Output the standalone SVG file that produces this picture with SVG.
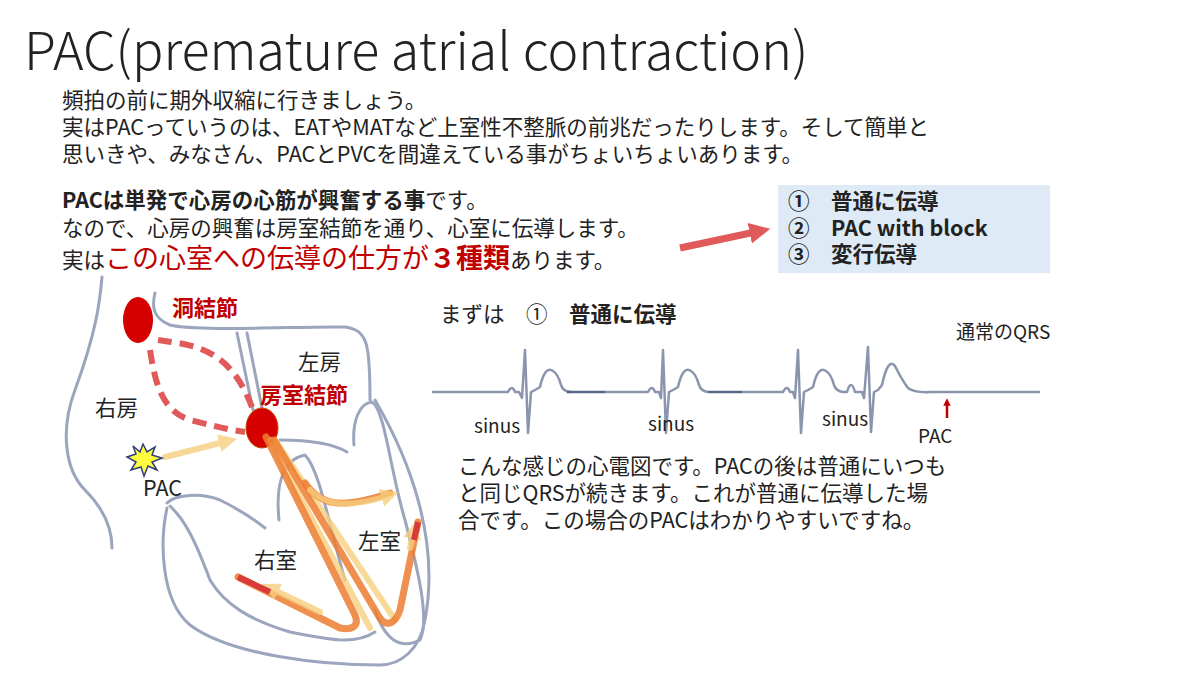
<svg xmlns="http://www.w3.org/2000/svg" width="1200" height="675" viewBox="0 0 1200 675">
<style>
text{font-family:"Noto Sans CJK JP","Noto Sans",sans-serif;fill:#222}
.t{font-size:21.5px}
.b{font-weight:bold}
.r{fill:#c00000}
.h{fill:none;stroke:#9ba5bd;stroke-width:3;stroke-linecap:round;stroke-linejoin:round}
.d{fill:none;stroke:#e05a5a;stroke-width:6;stroke-dasharray:14,8}
.ecg{fill:none;stroke:#8a94ad;stroke-width:2.5;stroke-linejoin:round}
.o{fill:none;stroke:#ed7d31;stroke-width:7;stroke-linecap:round;stroke-linejoin:round;opacity:.85}
.y{fill:none;stroke:#f7cf7e;stroke-width:6;opacity:.8;stroke-linecap:round}
</style>
<defs>
<marker id="ya" viewBox="0 0 10 10" refX="5" refY="5" markerWidth="3" markerHeight="3" orient="auto"><path d="M0,0L10,5L0,10z" fill="#f7cf7e"/></marker>
<marker id="ra" viewBox="0 0 10 10" refX="5" refY="5" markerWidth="3" markerHeight="3" orient="auto"><path d="M0,0L10,5L0,10z" fill="#e05a5a"/></marker>
<marker id="da" viewBox="0 0 10 10" refX="5" refY="5" markerWidth="3" markerHeight="3" orient="auto"><path d="M0,0L10,5L0,10z" fill="#c00000"/></marker>
</defs>
<rect width="1200" height="675" fill="#fff"/>
<text x="24" y="70" style="font-size:52px;font-weight:300">PAC(premature atrial contraction)</text>
<text class="t" x="62" y="108">頻拍の前に期外収縮に行きましょう。</text>
<text class="t" x="62" y="135">実はPACっていうのは、EATやMATなど上室性不整脈の前兆だったりします。そして簡単と</text>
<text class="t" x="62" y="162">思いきや、みなさん、PACとPVCを間違えている事がちょいちょいあります。</text>
<text class="t" x="62" y="208"><tspan class="b">PACは単発で心房の心筋が興奮する事</tspan>です。</text>
<text class="t" x="62" y="236">なので、心房の興奮は房室結節を通り、心室に伝導します。</text>
<text class="t" x="62" y="268">実は<tspan class="r" style="font-size:27px">この心室への伝導の仕方が</tspan><tspan class="r b" style="font-size:27px">３種類</tspan>あります。</text>
<g id="list">
<rect x="778" y="185" width="272" height="88" fill="#deebf7"/>
<text class="t b" x="788" y="209">①　普通に伝導</text>
<text class="t b" x="788" y="236">②　PAC with block</text>
<text class="t b" x="788" y="262">③　変行伝導</text>
</g>
<g id="connectors">
<path d="M680,248L760,231" stroke="#e05a5a" stroke-width="7" marker-end="url(#ra)"/>
</g>
<g id="heart">
<path class="h" d="M102,277C100,300 97,330 75,390C60,430 65,470 85,490C105,510 112,530 112,548"/>
<path class="h" d="M155,293C152,305 152,318 170,325C200,332 300,326 345,327C368,330 370,345 370,400"/>
<path class="h" d="M237,333L253,410M247,333L262,408"/>
<path class="h" d="M280,440C300,440 330,442 347,452"/>
<path class="h" d="M354,445C352,420 360,403 372,402C385,410 390,470 405,520C418,570 430,620 420,640C400,650 385,640 375,610"/>
<path class="h" d="M167,503C175,495 200,492 220,500C240,510 255,520 265,528"/>
<path class="h" d="M167,508C160,540 160,600 190,625C230,655 320,665 380,665C400,665 420,650 425,620C440,540 410,460 375,400"/>
<path class="h" d="M170,506C185,520 195,540 210,580C225,605 250,620 290,632C330,640 355,645 375,632"/>
<path class="h" d="M279,520C276,490 280,460 305,455C320,470 330,530 345,580"/>
</g>
<g id="conduction">
<path class="d" d="M158,340C190,345 230,345 253,410"/>
<path class="d" d="M150,350C155,380 160,410 190,420C210,425 230,430 245,432"/>
<ellipse id="sa" cx="138" cy="320" rx="15" ry="23" fill="#d60000"/>
<ellipse id="av" cx="262" cy="428" rx="16" ry="20" fill="#d60000" stroke="#c05000" stroke-width="1"/>
<path class="y" d="M270,440L370,628M275,440L395,620" stroke-width="12"/>
<path class="o" d="M266,437L355,615C360,628 350,630 340,628L238,577"/>
<path class="o" d="M274,440L378,615C385,628 395,625 400,610L418,522"/>
<path class="o" d="M305,483C320,505 340,510 390,493"/>
<path class="y" d="M310,490C330,510 360,505 390,495" marker-end="url(#ya)"/>
<path class="y" d="M320,612L270,588" marker-end="url(#ya)"/>
<path class="y" d="M410,548L414,530" marker-end="url(#ya)"/>
<path d="M238,577L270,592" stroke="#d93a3a" stroke-width="6" fill="none"/>
<path d="M418,522L414,540" stroke="#d93a3a" stroke-width="6" fill="none"/>
<path class="y" d="M165,457L228,441" stroke-width="7" marker-end="url(#ya)"/>
<polygon points="143,444 147,452 155,447 152,455 162,458 152,462 157,470 148,466 144,476 141,467 131,470 136,462 127,457 136,454 133,446 140,452" fill="#ffff40" stroke="#2f3e7a" stroke-width="1.5"/>
</g>
<text class="b r" x="172" y="316" style="font-size:22px">洞結節</text>
<text class="b r" x="260" y="403" style="font-size:22px">房室結節</text>
<text class="t" x="298" y="370">左房</text>
<text class="t" x="95" y="416">右房</text>
<text class="t" x="143" y="496">PAC</text>
<text class="t" x="358" y="549">左室</text>
<text class="t" x="254" y="568">右室</text>
<g id="ecg">
<text class="t" x="440" y="322">まずは　①　<tspan class="b">普通に伝導</tspan></text>
<path class="ecg" d="M432,392L508,392Q512,384 515,392L519,392L522,398L525,350L528,433L531,392L535,390L540,387Q545,365 553,371Q558,374 561,385Q563,391 570,392L567,392"/>
<path d="M567,392L605,392" stroke="#5a6688" stroke-width="2.5"/>
<path class="ecg" d="M605,392L648,392Q652,384 655,392L659,392L661,398L663,350L666,433L669,392L673,390L678,387Q683,365 691,371Q696,374 699,385Q701,391 708,392L708,392"/>
<path d="M708,392L742,392" stroke="#5a6688" stroke-width="2.5"/>
<path class="ecg" d="M742,392L783,392Q787,384 790,392L793,392L795,398L798,350L801,433L804,392L808,390L813,387Q818,365 826,371Q831,374 834,385Q836,391 843,392L847,392Q851,378 855,392L862,392L864,398L868,347L871,432L874,392L878,390L882,385Q888,357 895,366Q902,380 908,388Q915,393 930,392L1040,392"/>
<text class="t" x="474" y="433" style="font-size:19px">sinus</text>
<text class="t" x="648" y="431" style="font-size:19px">sinus</text>
<text class="t" x="822" y="426" style="font-size:19px">sinus</text>
<text class="t" x="918" y="443" style="font-size:19px">PAC</text>
<text class="t" x="956" y="339" style="font-size:19px">通常のQRS</text>
<path d="M947,418L947,402" stroke="#c00000" stroke-width="2.5" marker-end="url(#da)"/>
</g>
<text class="t" x="458" y="474">こんな感じの心電図です。PACの後は普通にいつも</text>
<text class="t" x="458" y="501">と同じQRSが続きます。これが普通に伝導した場</text>
<text class="t" x="458" y="528">合です。この場合のPACはわかりやすいですね。</text>
</svg>
